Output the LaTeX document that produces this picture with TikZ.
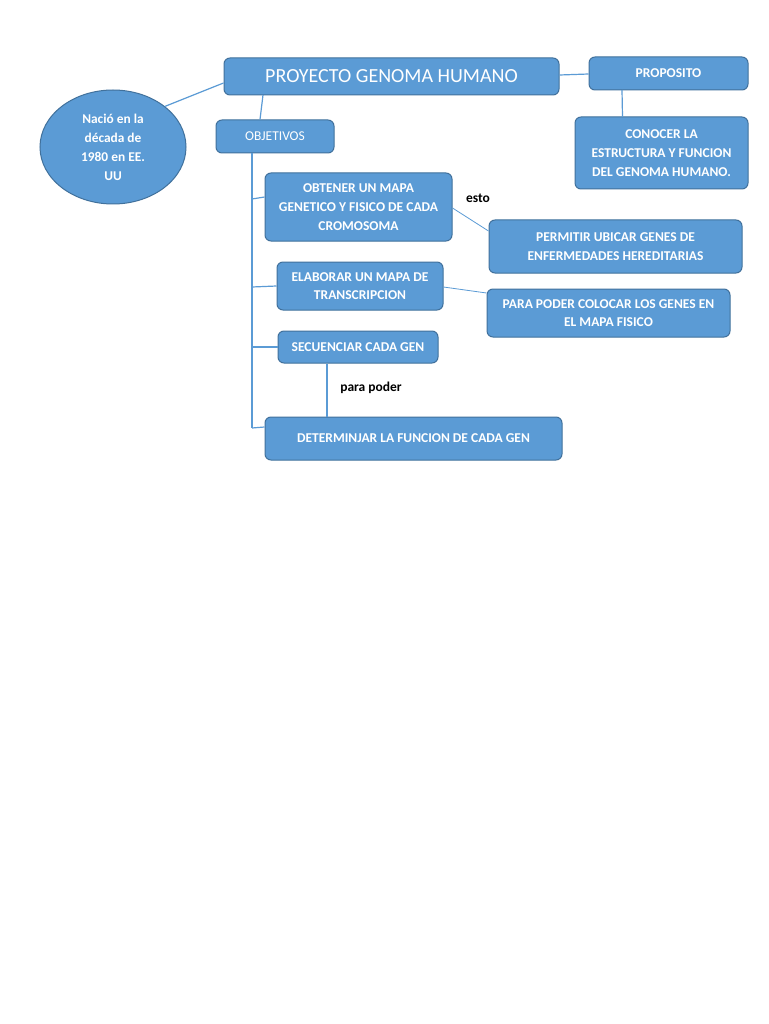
\documentclass[tikz,border=0pt]{standalone}
\usepackage{fontspec}
\setmainfont{Carlito}
\usetikzlibrary{shapes.geometric}
\definecolor{boxfill}{HTML}{5B9BD5}
\definecolor{boxline}{HTML}{41719C}
\definecolor{linkc}{HTML}{5B9BD5}
\begin{document}
\begin{tikzpicture}[x=1pt,y=-1pt,
  bx/.style={draw=boxline,fill=boxfill,line width=1pt,rounded corners=6pt,text=white,align=center,inner sep=0pt,font=\fontsize{13.5}{18.7}\selectfont\bfseries},
  lk/.style={draw=linkc,line width=1.2pt},
  lkthin/.style={draw=linkc,line width=0.8pt},
  lbl/.style={font=\fontsize{13.5}{15}\selectfont\bfseries,text=black,inner sep=0pt}]
\useasboundingbox (0,0) rectangle (768,1024);
\fill[white] (0,0) rectangle (768,1024);
% boxes
\node[bx,minimum width=335pt,minimum height=37pt,font=\fontsize{20}{24}\selectfont] (title) at (391.5,76.5) {PROYECTO GENOMA HUMANO};
\node[draw=boxline,fill=boxfill,line width=1pt,ellipse,minimum width=146pt,minimum height=114pt,inner sep=0pt,text=white,align=center,font=\fontsize{13.4}{19}\selectfont\bfseries] (nacio) at (113,147) {Nació en la\\década de\\1980 en EE.\\UU};
\node[bx,minimum width=118pt,minimum height=33pt,font=\fontsize{13.5}{19}\selectfont] (obj) at (275,136.5) {OBJETIVOS};
\node[bx,minimum width=159pt,minimum height=33pt] (prop) at (668.5,73.5) {PROPOSITO};
\node[bx,minimum width=173pt,minimum height=72pt] (conocer) at (661.5,153) {CONOCER LA\\ESTRUCTURA Y FUNCION\\DEL GENOMA HUMANO.};
\node[bx,minimum width=187pt,minimum height=68pt] (obtener) at (358.5,207) {OBTENER UN MAPA\\GENETICO Y FISICO DE CADA\\CROMOSOMA};
\node[bx,minimum width=253pt,minimum height=53pt] (permitir) at (615.5,246.5) {PERMITIR UBICAR GENES DE\\ENFERMEDADES HEREDITARIAS};
\node[bx,minimum width=166pt,minimum height=48pt] (elaborar) at (360,286) {ELABORAR UN MAPA DE\\TRANSCRIPCION};
\node[bx,minimum width=243pt,minimum height=48pt] (para) at (608.5,313) {PARA PODER COLOCAR LOS GENES EN\\EL MAPA FISICO};
\node[bx,minimum width=160pt,minimum height=32pt] (secu) at (358,347) {SECUENCIAR CADA GEN};
\node[bx,minimum width=297pt,minimum height=43pt] (deter) at (413.5,438.5) {DETERMINJAR LA FUNCION DE CADA GEN};
% labels
\node[lbl] (esto) at (478,198) {esto};
\node[lbl] (parapoder) at (371,388) {para poder};
% coordinates for the trunk
\coordinate (ttop) at (252,153);
\coordinate (tbot) at (252,428);
\coordinate (b1) at (252,199);
\coordinate (b2) at (252,287);
\coordinate (b3) at (252,347);
% connectors
\draw[lk] (nacio.38) -- (title.west |- 0,83);
\draw[lk] (263,95) -- (obj.north -| 260,0);
\draw[lk] (title.east |- 0,75) -- (prop.west |- 0,74);
\draw[lk] (622,90) -- (622.5,117);
\draw[lk] (ttop) -- (tbot);
\draw[lk] (b1) -- (obtener.west |- 0,197);
\draw[lk] (b2) -- (elaborar.west);
\draw[lk] (b3) -- (secu.west);
\draw[lk] (tbot) -- (deter.west |- 0,427);
\draw[lkthin] (obtener.east |- 0,208) -- (permitir.west |- 0,231);
\draw[lkthin] (elaborar.east |- 0,287) -- (para.west |- 0,293);
\draw[lk] (secu.south -| 327,0) -- (deter.north -| 327,0);
\end{tikzpicture}
\end{document}
